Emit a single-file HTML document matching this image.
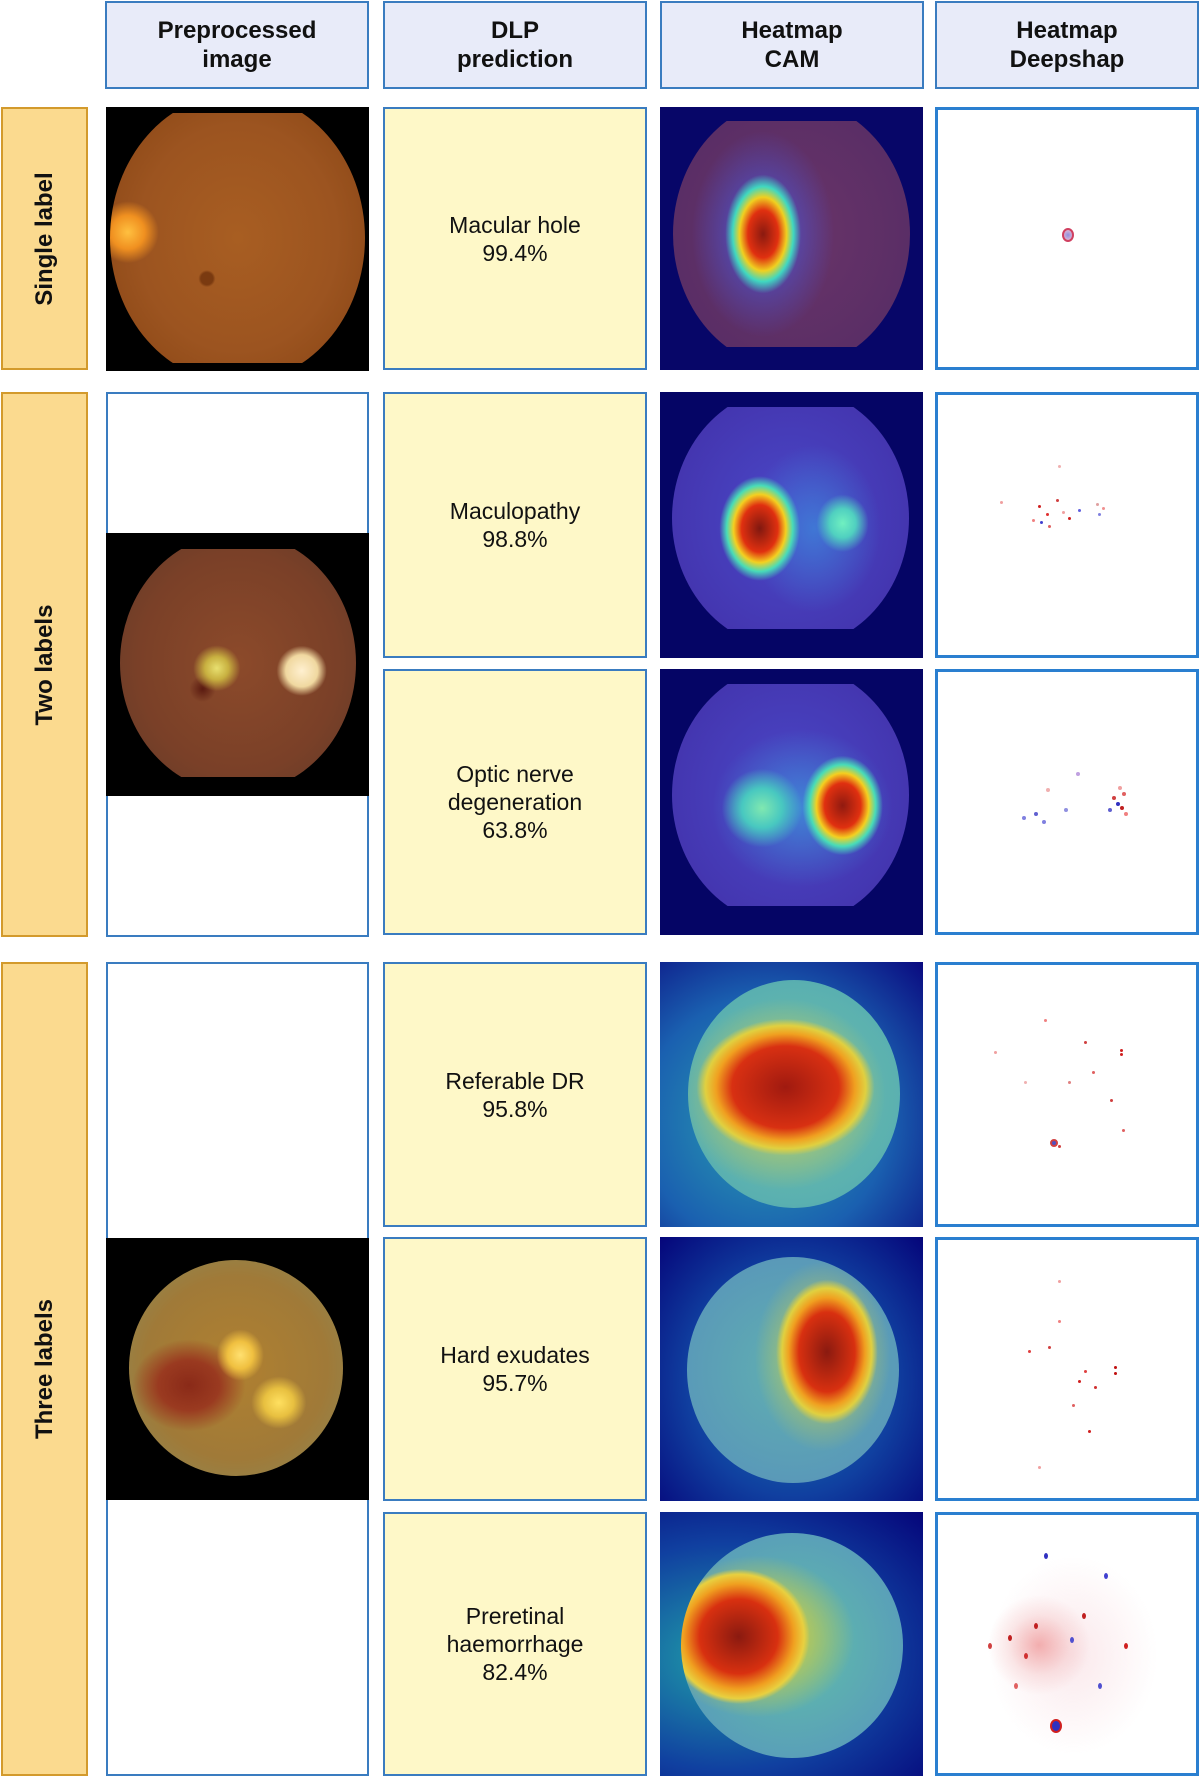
<!DOCTYPE html>
<html><head><meta charset="utf-8">
<style>
body{margin:0;width:1200px;height:1778px;background:#fff;position:relative;overflow:hidden;font-family:"Liberation Sans",Arial,sans-serif;}
.a{position:absolute;box-sizing:border-box;}
.hdr{background:#e8ebf9;border:2px solid #3a7cc0;display:flex;align-items:center;justify-content:center;text-align:center;font-weight:bold;font-size:24px;line-height:29px;color:#111;}
.grp{background:#fbda8f;border:2px solid #d39a2c;}
.grp span{position:absolute;left:50%;top:50%;transform:translate(-50%,-50%) rotate(-90deg);white-space:nowrap;font-weight:bold;font-size:24px;color:#111;}
.pred{background:#fef8c8;border:2px solid #3a7cc0;display:flex;align-items:center;justify-content:center;text-align:center;font-size:23px;line-height:28px;color:#111;}
.box{border:2px solid #3a7cc0;background:#fff;}
.shap{border:3px solid #2a7fd0;background:#fff;overflow:hidden;}
.img{overflow:hidden;}
.f{position:absolute;}
.dot{position:absolute;border-radius:50%;}
</style></head><body>

<div class="a hdr" style="left:105px;top:1px;width:264px;height:88px;">Preprocessed<br>image</div>
<div class="a hdr" style="left:383px;top:1px;width:264px;height:88px;">DLP<br>prediction</div>
<div class="a hdr" style="left:660px;top:1px;width:264px;height:88px;">Heatmap<br>CAM</div>
<div class="a hdr" style="left:935px;top:1px;width:264px;height:88px;">Heatmap<br>Deepshap</div>

<div class="a grp" style="left:1px;top:107px;width:87px;height:263px;"><span>Single label</span></div>
<div class="a grp" style="left:1px;top:392px;width:87px;height:545px;"><span>Two labels</span></div>
<div class="a grp" style="left:1px;top:962px;width:87px;height:814px;"><span>Three labels</span></div>

<!-- Preprocessed images -->
<div class="a img" style="left:106px;top:107px;width:263px;height:264px;background:#000;">
  <div class="f" style="left:4px;top:6px;width:255px;height:250px;overflow:hidden;">
    <div class="f" style="left:0;top:-20px;width:255px;height:290px;border-radius:50%;background:radial-gradient(circle at 7% 48%,#ffc040 0,#f09020 6%,rgba(200,100,30,0) 11%),radial-gradient(circle at 38% 64%,#7a3a10 0,#7a3a10 2.5%,rgba(0,0,0,0) 3.5%),radial-gradient(ellipse at 50% 50%,#a85e22 0,#9c5420 55%,#844212 100%);"></div>
  </div>
</div>
<div class="a box" style="left:106px;top:392px;width:263px;height:545px;"></div>
<div class="a img" style="left:106px;top:533px;width:263px;height:263px;background:#000;">
  <div class="f" style="left:14px;top:16px;width:236px;height:228px;overflow:hidden;">
    <div class="f" style="left:0;top:-16px;width:236px;height:260px;border-radius:50%;background:radial-gradient(circle at 77% 53%,#fff0d0 0,#f0d8a0 7%,rgba(150,80,40,0) 11%),radial-gradient(ellipse at 41% 52%,#e8e070 0,#c8b040 6%,rgba(150,80,40,0) 12%),radial-gradient(circle at 35% 60%,#5a1a10 0,rgba(80,30,20,0) 6%),radial-gradient(ellipse at 50% 50%,#8c4a2a 0,#7a4028 60%,#5e3a2a 100%);"></div>
  </div>
</div>
<div class="a box" style="left:106px;top:962px;width:263px;height:814px;"></div>
<div class="a img" style="left:106px;top:1238px;width:263px;height:262px;background:#000;">
  <div class="f" style="left:23px;top:22px;width:214px;height:216px;border-radius:50%;background:radial-gradient(ellipse at 52% 44%,#ffe070 0,#f0c040 8%,rgba(200,140,50,0) 15%),radial-gradient(ellipse at 70% 66%,#ffe060 0,#e8c040 7%,rgba(200,140,50,0) 13%),radial-gradient(ellipse at 28% 58%,#8a2a18 0,#9a3a20 14%,rgba(150,80,40,0) 26%),radial-gradient(circle at 50% 50%,#b08030 0,#a07a38 60%,#8a8a5a 100%);"></div>
</div>

<!-- Predictions -->
<div class="a pred" style="left:383px;top:107px;width:264px;height:263px;">Macular hole<br>99.4%</div>
<div class="a pred" style="left:383px;top:392px;width:264px;height:266px;">Maculopathy<br>98.8%</div>
<div class="a pred" style="left:383px;top:669px;width:264px;height:266px;">Optic nerve<br>degeneration<br>63.8%</div>
<div class="a pred" style="left:383px;top:962px;width:264px;height:265px;">Referable DR<br>95.8%</div>
<div class="a pred" style="left:383px;top:1237px;width:264px;height:264px;">Hard exudates<br>95.7%</div>
<div class="a pred" style="left:383px;top:1512px;width:264px;height:264px;">Preretinal<br>haemorrhage<br>82.4%</div>

<!-- CAM heatmaps -->
<div class="a img" style="left:660px;top:107px;width:263px;height:263px;background:#070668;">
  <div class="f" style="left:13px;top:14px;width:237px;height:226px;overflow:hidden;">
    <div class="f" style="left:0;top:-22px;width:237px;height:270px;border-radius:50%;background:radial-gradient(ellipse 16% 22% at 38% 50%,#8a1a10 0,#e03010 40%,#f0d020 62%,#40d8c0 80%,rgba(80,80,220,0) 100%),radial-gradient(ellipse 30% 38% at 38% 50%,rgba(70,90,230,.9) 0,rgba(90,60,200,0) 100%),radial-gradient(ellipse at 50% 50%,#6a3468 0,#5a2e66 70%,#4a2a6e 100%);"></div>
  </div>
</div>
<div class="a img" style="left:660px;top:392px;width:263px;height:266px;background:#050565;">
  <div class="f" style="left:12px;top:15px;width:237px;height:222px;overflow:hidden;">
    <div class="f" style="left:0;top:-20px;width:237px;height:262px;border-radius:50%;background:radial-gradient(ellipse 17% 20% at 37% 54%,#801810 0,#e03010 45%,#f4d020 65%,#48dcb8 82%,rgba(70,90,230,0) 100%),radial-gradient(ellipse 11% 11% at 72% 52%,#70f0c0 0,#50d0c0 50%,rgba(70,130,220,0) 100%),radial-gradient(ellipse 28% 32% at 60% 54%,rgba(60,140,220,.7) 0,rgba(70,90,230,0) 100%),radial-gradient(ellipse at 50% 50%,#4a48c8 0,#4436b0 70%,#3a2a8a 100%);"></div>
  </div>
</div>
<div class="a img" style="left:660px;top:669px;width:263px;height:266px;background:#050565;">
  <div class="f" style="left:12px;top:15px;width:237px;height:222px;overflow:hidden;">
    <div class="f" style="left:0;top:-20px;width:237px;height:262px;border-radius:50%;background:radial-gradient(ellipse 17% 19% at 72% 54%,#901a10 0,#e03010 45%,#f4d020 65%,#48dcb8 82%,rgba(70,90,230,0) 100%),radial-gradient(ellipse 17% 15% at 38% 55%,#80e8b0 0,#48c8c0 50%,rgba(70,130,220,0) 100%),radial-gradient(ellipse 38% 30% at 55% 55%,rgba(60,160,220,.7) 0,rgba(70,90,230,0) 100%),radial-gradient(ellipse at 50% 50%,#4a48c8 0,#4436b0 70%,#3a2a8a 100%);"></div>
  </div>
</div>
<div class="a img" style="left:660px;top:962px;width:263px;height:265px;background:radial-gradient(ellipse at 40% 60%,#2aa0b0 0,#1a60b0 55%,#0a0a80 100%);">
  <div class="f" style="left:28px;top:18px;width:212px;height:228px;border-radius:50%;background:radial-gradient(ellipse 42% 30% at 46% 47%,#a01a10 0,#d83012 60%,#f0a020 78%,#e0d040 90%,rgba(100,200,160,0) 100%),radial-gradient(ellipse 48% 42% at 45% 50%,#e0d040 0,rgba(90,200,170,0) 100%),radial-gradient(circle at 50% 50%,#70c0a8 0,#5ab0b0 70%,#4a9ab8 100%);"></div>
</div>
<div class="a img" style="left:660px;top:1237px;width:263px;height:264px;background:radial-gradient(ellipse at 50% 55%,#1a80b0 0,#1040a0 55%,#05057a 100%);">
  <div class="f" style="left:27px;top:20px;width:212px;height:226px;border-radius:50%;background:radial-gradient(ellipse 24% 32% at 66% 42%,#8a1a10 0,#d83010 55%,#f0a020 75%,#e0d040 88%,rgba(100,200,160,0) 100%),radial-gradient(ellipse 32% 42% at 64% 44%,#d8d040 0,rgba(90,200,170,0) 100%),radial-gradient(circle at 50% 50%,#60b0b0 0,#5a9ab8 70%,#5a88c0 100%);"></div>
</div>
<div class="a img" style="left:660px;top:1512px;width:263px;height:264px;background:radial-gradient(ellipse at 25% 55%,#20a0a8 0,#1040a0 55%,#05057a 100%);">
  <div class="f" style="left:21px;top:21px;width:222px;height:225px;border-radius:50%;background:radial-gradient(ellipse 32% 30% at 26% 46%,#8a1a10 0,#d83010 55%,#f0a020 78%,#e8d040 92%,rgba(100,200,160,0) 100%),radial-gradient(ellipse 44% 36% at 34% 46%,#e8d040 0,#c0c850 40%,rgba(90,200,170,0) 100%),radial-gradient(circle at 50% 50%,#60c0a8 0,#5aa0b8 70%,#6a70c0 100%);"></div>
</div>

<!-- Deepshap -->
<div class="a shap" style="left:935px;top:107px;width:264px;height:263px;">
  <div class="dot" style="left:124px;top:118px;width:12px;height:14px;border:2px solid #d04060;background:radial-gradient(circle,#9090e0 0,#f0c0d0 100%);box-sizing:border-box;"></div>
</div>
<div class="a shap" style="left:935px;top:392px;width:264px;height:266px;">
  <div class="dot" style="left:100px;top:110px;width:3px;height:3px;background:#d02020;box-shadow:8px 8px 0 #e03030,18px -6px 0 #d04040,2px 16px 0 #4040d0,30px 12px 0 #d02020,40px 4px 0 #6060e0,-6px 14px 0 #f08080,58px -2px 0 #e0a0a0,60px 8px 0 #8080e0,64px 2px 0 #f09090,-38px -4px 0 #f0a0a0,20px -40px 0 #f0b0b0,10px 20px 0 #e06060,24px 6px 0 #f0a0a0;"></div>
</div>
<div class="a shap" style="left:935px;top:669px;width:264px;height:266px;">
  <div class="dot" style="left:178px;top:130px;width:4px;height:4px;background:#3030c0;box-shadow:4px 4px 0 #c02020,-4px -6px 0 #d04040,6px -10px 0 #e06060,-8px 6px 0 #6060d0,8px 10px 0 #f08080,2px -16px 0 #f0a0a0,-82px 10px 0 #6060d0,-74px 18px 0 #8080e0,-94px 14px 0 #8080e0,-70px -14px 0 #f0b0b0,-52px 6px 0 #9090e0,-40px -30px 0 #c0a0e0;"></div>
</div>
<div class="a shap" style="left:935px;top:962px;width:264px;height:265px;">
  <div class="dot" style="left:112px;top:174px;width:8px;height:8px;background:#5050c0;border:2px solid #d04040;box-sizing:border-box;"></div>
  <div class="dot" style="left:120px;top:180px;width:3px;height:3px;background:#d04040;box-shadow:52px -46px 0 #d04040,34px -74px 0 #e06060,26px -104px 0 #d04040,-14px -126px 0 #f08080,-64px -94px 0 #f0a0a0,64px -16px 0 #e06060,10px -64px 0 #e08080,-34px -64px 0 #f0b0b0,62px -96px 0 #d02020,62px -92px 0 #d02020;"></div>
</div>
<div class="a shap" style="left:935px;top:1237px;width:264px;height:264px;">
  <div class="dot" style="left:140px;top:140px;width:3px;height:3px;background:#d02020;box-shadow:6px -10px 0 #e04040,16px 6px 0 #d03030,-6px 24px 0 #e06060,10px 50px 0 #d02020,-50px -30px 0 #e04040,-30px -34px 0 #d04040,-20px -60px 0 #f08080,36px -14px 0 #c01010,36px -8px 0 #c01010,-40px 86px 0 #f0a0a0,-20px -100px 0 #f0a0a0;"></div>
</div>
<div class="a shap" style="left:935px;top:1512px;width:264px;height:264px;">
  <div class="f" style="left:50px;top:40px;width:170px;height:200px;border-radius:50%;background:radial-gradient(ellipse 30% 25% at 30% 45%,rgba(230,90,90,.45) 0,rgba(230,120,120,.15) 60%,rgba(255,255,255,0) 100%),radial-gradient(ellipse at 50% 50%,rgba(240,180,190,.3) 0,rgba(255,255,255,0) 70%);"></div>
  <div class="dot" style="left:112px;top:204px;width:12px;height:14px;background:#3030c0;border:2px solid #d02020;box-sizing:border-box;box-shadow:-46px -88px 0 -4px #c02020,-30px -70px 0 -4px #d03030,-66px -80px 0 -4px #d04040,-20px -100px 0 -4px #c02020,28px -110px 0 -4px #c02020,-10px -170px 0 -4px #3030c0,50px -150px 0 -4px #4040d0,16px -86px 0 -4px #5050d0,44px -40px 0 -4px #5050d0,70px -80px 0 -4px #d02020,-40px -40px 0 -4px #e06060;"></div>
</div>

</body></html>
